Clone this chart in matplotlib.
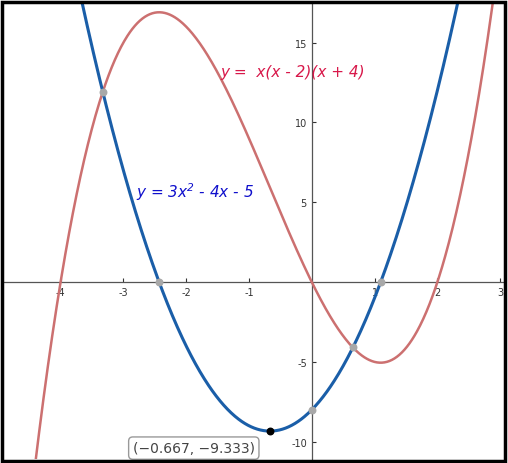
import numpy as np
import matplotlib
matplotlib.use("Agg")
import matplotlib.pyplot as plt
plt.rcParams["mathtext.fontset"] = "custom"
plt.rcParams["mathtext.it"] = "DejaVu Sans:italic"
plt.rcParams["mathtext.rm"] = "DejaVu Sans:italic"
plt.rcParams["mathtext.default"] = "it"

# data
cubic_roots = [-4, 0, 2]            # red: x(x-2)(x+4)
quad_coeffs = [3, 4, -8]            # blue parabola as drawn
gray_pts_x = [-3.33, -2.44, 0.0, 0.65, 1.1]
gray_pts_y = [11.9, 0.0, -8.0, -4.05, 0.0]
vertex = (-0.667, -9.333)
xticks = [-4, -3, -2, -1, 1, 2, 3]
yticks = [-10, -5, 5, 10, 15]

fig = plt.figure(figsize=(5.08, 4.64), dpi=100)
ax = fig.add_axes([0.008, 0.008, 0.984, 0.984])
xmin, xmax, ymin, ymax = -4.9, 3.06, -11.1, 17.5
ax.set_xlim(xmin, xmax); ax.set_ylim(ymin, ymax)

x = np.linspace(xmin, xmax, 800)
red = np.poly(cubic_roots)
ax.plot(x, np.polyval(red, x), color="#cc7070", lw=1.8, zorder=3)
ax.plot(x, np.polyval(quad_coeffs, x), color="#1a5ea8", lw=2.2, zorder=4)
ax.scatter(gray_pts_x, gray_pts_y, s=22, color="#a8a8a8", zorder=5)
ax.scatter([vertex[0]], [vertex[1]], s=22, color="black", zorder=6)

for s in ["left", "bottom"]:
    ax.spines[s].set_position(("data", 0))
    ax.spines[s].set_color("#555555")
    ax.spines[s].set_linewidth(0.9)
for s in ["top", "right"]:
    ax.spines[s].set_visible(False)
ax.set_xticks(xticks); ax.set_yticks(yticks)
ax.set_xticklabels([str(t) for t in xticks])
ax.set_yticklabels([str(t) for t in yticks])
ax.tick_params(labelsize=7, colors="#333333", length=3, direction="in")

ax.text(-1.45, 13.2, "y =  x(x - 2)(x + 4)", color="#d8184a",
        fontsize=11, style="italic", ha="left", va="center")
ax.text(-2.8, 5.7, r"y = 3x$^2$ - 4x - 5", color="#1010cc",
        fontsize=11, style="italic", ha="left", va="center")
ax.text(-2.85, -10.4, "(−0.667, −9.333)", fontsize=10, color="#444444",
        ha="left", va="center",
        bbox=dict(boxstyle="round,pad=0.3", fc="white", ec="#999999"))

# frame
fig.patches.append(plt.Rectangle((0.004, 0.004), 0.99, 0.99, transform=fig.transFigure,
                                 fill=False, ec="black", lw=2.5))
fig.savefig("out.png", dpi=100)
